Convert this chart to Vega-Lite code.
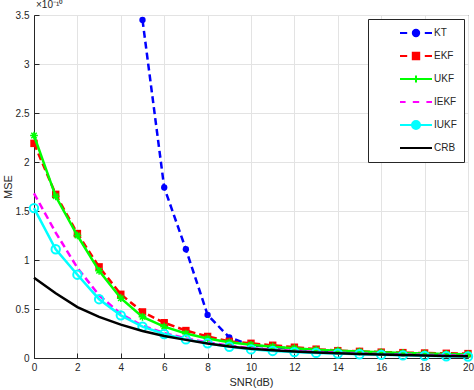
{
  "$schema": "https://vega.github.io/schema/vega-lite/v6.json",
  "width": 434,
  "height": 343,
  "autosize": {"type": "none"},
  "padding": {"left": 34, "top": 15, "right": 6, "bottom": 32},
  "background": "white",
  "title": {"text": "×10⁻¹⁰", "anchor": "start", "frame": "group", "fontSize": 10, "fontWeight": "normal", "font": "Liberation Sans", "color": "#262626", "offset": 0, "dx": 2},
  "config": {
    "view": {"stroke": "#262626", "strokeWidth": 1},
    "axis": {
      "labelFont": "Liberation Sans", "labelFontSize": 10, "labelColor": "#262626",
      "titleFont": "Liberation Sans", "titleFontSize": 11, "titleFontWeight": "normal", "titleColor": "#262626",
      "gridColor": "#e3e3e3", "gridWidth": 1, "domainColor": "#262626", "tickColor": "#262626", "tickSize": -5
    }
  },
  "data": {"values": [
    {"snr": 5, "series": "KT", "mse": 3.45}, {"snr": 6, "series": "KT", "mse": 1.74}, {"snr": 7, "series": "KT", "mse": 1.11}, {"snr": 8, "series": "KT", "mse": 0.44}, {"snr": 9, "series": "KT", "mse": 0.21}, {"snr": 10, "series": "KT", "mse": 0.13}, {"snr": 11, "series": "KT", "mse": 0.11}, {"snr": 12, "series": "KT", "mse": 0.095}, {"snr": 13, "series": "KT", "mse": 0.08}, {"snr": 14, "series": "KT", "mse": 0.068}, {"snr": 15, "series": "KT", "mse": 0.06}, {"snr": 16, "series": "KT", "mse": 0.053}, {"snr": 17, "series": "KT", "mse": 0.047}, {"snr": 18, "series": "KT", "mse": 0.042}, {"snr": 19, "series": "KT", "mse": 0.038}, {"snr": 20, "series": "KT", "mse": 0.034},
    {"snr": 0, "series": "EKF", "mse": 2.19}, {"snr": 1, "series": "EKF", "mse": 1.67}, {"snr": 2, "series": "EKF", "mse": 1.27}, {"snr": 3, "series": "EKF", "mse": 0.93}, {"snr": 4, "series": "EKF", "mse": 0.65}, {"snr": 5, "series": "EKF", "mse": 0.47}, {"snr": 6, "series": "EKF", "mse": 0.36}, {"snr": 7, "series": "EKF", "mse": 0.28}, {"snr": 8, "series": "EKF", "mse": 0.22}, {"snr": 9, "series": "EKF", "mse": 0.17}, {"snr": 10, "series": "EKF", "mse": 0.15}, {"snr": 11, "series": "EKF", "mse": 0.13}, {"snr": 12, "series": "EKF", "mse": 0.11}, {"snr": 13, "series": "EKF", "mse": 0.09}, {"snr": 14, "series": "EKF", "mse": 0.075}, {"snr": 15, "series": "EKF", "mse": 0.068}, {"snr": 16, "series": "EKF", "mse": 0.06}, {"snr": 17, "series": "EKF", "mse": 0.055}, {"snr": 18, "series": "EKF", "mse": 0.051}, {"snr": 19, "series": "EKF", "mse": 0.048}, {"snr": 20, "series": "EKF", "mse": 0.045},
    {"snr": 0, "series": "UKF", "mse": 2.27}, {"snr": 1, "series": "UKF", "mse": 1.65}, {"snr": 2, "series": "UKF", "mse": 1.25}, {"snr": 3, "series": "UKF", "mse": 0.89}, {"snr": 4, "series": "UKF", "mse": 0.61}, {"snr": 5, "series": "UKF", "mse": 0.42}, {"snr": 6, "series": "UKF", "mse": 0.32}, {"snr": 7, "series": "UKF", "mse": 0.25}, {"snr": 8, "series": "UKF", "mse": 0.2}, {"snr": 9, "series": "UKF", "mse": 0.16}, {"snr": 10, "series": "UKF", "mse": 0.135}, {"snr": 11, "series": "UKF", "mse": 0.115}, {"snr": 12, "series": "UKF", "mse": 0.1}, {"snr": 13, "series": "UKF", "mse": 0.085}, {"snr": 14, "series": "UKF", "mse": 0.075}, {"snr": 15, "series": "UKF", "mse": 0.066}, {"snr": 16, "series": "UKF", "mse": 0.058}, {"snr": 17, "series": "UKF", "mse": 0.052}, {"snr": 18, "series": "UKF", "mse": 0.047}, {"snr": 19, "series": "UKF", "mse": 0.042}, {"snr": 20, "series": "UKF", "mse": 0.038},
    {"snr": 0, "series": "IEKF", "mse": 1.68}, {"snr": 1, "series": "IEKF", "mse": 1.28}, {"snr": 2, "series": "IEKF", "mse": 0.92}, {"snr": 3, "series": "IEKF", "mse": 0.64}, {"snr": 4, "series": "IEKF", "mse": 0.45}, {"snr": 5, "series": "IEKF", "mse": 0.33}, {"snr": 6, "series": "IEKF", "mse": 0.255}, {"snr": 7, "series": "IEKF", "mse": 0.2}, {"snr": 8, "series": "IEKF", "mse": 0.16}, {"snr": 9, "series": "IEKF", "mse": 0.125}, {"snr": 10, "series": "IEKF", "mse": 0.1}, {"snr": 11, "series": "IEKF", "mse": 0.085}, {"snr": 12, "series": "IEKF", "mse": 0.072}, {"snr": 13, "series": "IEKF", "mse": 0.062}, {"snr": 14, "series": "IEKF", "mse": 0.054}, {"snr": 15, "series": "IEKF", "mse": 0.047}, {"snr": 16, "series": "IEKF", "mse": 0.041}, {"snr": 17, "series": "IEKF", "mse": 0.036}, {"snr": 18, "series": "IEKF", "mse": 0.032}, {"snr": 19, "series": "IEKF", "mse": 0.028}, {"snr": 20, "series": "IEKF", "mse": 0.025},
    {"snr": 0, "series": "IUKF", "mse": 1.53}, {"snr": 1, "series": "IUKF", "mse": 1.11}, {"snr": 2, "series": "IUKF", "mse": 0.85}, {"snr": 3, "series": "IUKF", "mse": 0.6}, {"snr": 4, "series": "IUKF", "mse": 0.435}, {"snr": 5, "series": "IUKF", "mse": 0.32}, {"snr": 6, "series": "IUKF", "mse": 0.245}, {"snr": 7, "series": "IUKF", "mse": 0.19}, {"snr": 8, "series": "IUKF", "mse": 0.15}, {"snr": 9, "series": "IUKF", "mse": 0.115}, {"snr": 10, "series": "IUKF", "mse": 0.088}, {"snr": 11, "series": "IUKF", "mse": 0.072}, {"snr": 12, "series": "IUKF", "mse": 0.06}, {"snr": 13, "series": "IUKF", "mse": 0.052}, {"snr": 14, "series": "IUKF", "mse": 0.045}, {"snr": 15, "series": "IUKF", "mse": 0.038}, {"snr": 16, "series": "IUKF", "mse": 0.032}, {"snr": 17, "series": "IUKF", "mse": 0.027}, {"snr": 18, "series": "IUKF", "mse": 0.022}, {"snr": 19, "series": "IUKF", "mse": 0.018}, {"snr": 20, "series": "IUKF", "mse": 0.015},
    {"snr": 0, "series": "CRB", "mse": 0.82}, {"snr": 1, "series": "CRB", "mse": 0.66}, {"snr": 2, "series": "CRB", "mse": 0.52}, {"snr": 3, "series": "CRB", "mse": 0.42}, {"snr": 4, "series": "CRB", "mse": 0.34}, {"snr": 5, "series": "CRB", "mse": 0.275}, {"snr": 6, "series": "CRB", "mse": 0.225}, {"snr": 7, "series": "CRB", "mse": 0.185}, {"snr": 8, "series": "CRB", "mse": 0.148}, {"snr": 9, "series": "CRB", "mse": 0.118}, {"snr": 10, "series": "CRB", "mse": 0.095}, {"snr": 11, "series": "CRB", "mse": 0.08}, {"snr": 12, "series": "CRB", "mse": 0.067}, {"snr": 13, "series": "CRB", "mse": 0.057}, {"snr": 14, "series": "CRB", "mse": 0.048}, {"snr": 15, "series": "CRB", "mse": 0.041}, {"snr": 16, "series": "CRB", "mse": 0.035}, {"snr": 17, "series": "CRB", "mse": 0.03}, {"snr": 18, "series": "CRB", "mse": 0.025}, {"snr": 19, "series": "CRB", "mse": 0.021}, {"snr": 20, "series": "CRB", "mse": 0.018}
  ]},
  "encoding": {
    "x": {"field": "snr", "type": "quantitative", "scale": {"domain": [0, 20], "nice": false, "zero": false},
      "axis": {"title": "SNR(dB)", "values": [0, 2, 4, 6, 8, 10, 12, 14, 16, 18, 20], "format": "d", "labelPadding": 9, "titlePadding": 4, "labelFlush": false}},
    "y": {"field": "mse", "type": "quantitative", "scale": {"domain": [0, 3.5], "nice": false},
      "axis": {"title": "MSE", "values": [0, 0.5, 1, 1.5, 2, 2.5, 3, 3.5], "format": "~g", "labelPadding": 10, "titlePadding": 2, "labelFlush": false}},
    "color": {"field": "series", "type": "nominal",
      "scale": {"domain": ["KT", "EKF", "UKF", "IEKF", "IUKF", "CRB"], "range": ["#0000ff", "#ff0000", "#00ff00", "#ff00ff", "#00ffff", "#000000"]}}
  },
  "layer": [
    {
      "transform": [{"filter": "datum.snr > 100"}],
      "mark": {"type": "point", "filled": false, "opacity": 1, "size": 4096, "strokeWidth": 2},
      "encoding": {
        "color": {"field": "series", "type": "nominal",
          "scale": {"domain": ["KT", "EKF", "UKF", "IEKF", "IUKF", "CRB"], "range": ["#0000ff", "#ff0000", "#00ff00", "#ff00ff", "#00ffff", "#000000"]},
          "legend": {"title": null, "orient": "top-right", "offset": 4, "padding": 7, "strokeColor": "#262626", "fillColor": "white",
            "clipHeight": 14, "rowPadding": 9, "labelOffset": -7, "symbolSize": 4096, "symbolStrokeWidth": 2,
            "labelFont": "Liberation Sans", "labelFontSize": 10, "labelColor": "#262626",
            "labelExpr": "datum.label + '\u00a0\u00a0\u00a0\u00a0\u00a0\u00a0\u00a0'"}},
        "shape": {"field": "series", "type": "nominal",
          "scale": {"domain": ["KT", "EKF", "UKF", "IEKF", "IUKF", "CRB"],
            "range": [
              "M-1,0M-0.25,0H-0.025M0.525,0H0.75M0.15,0A0.1,0.1 0 1,0 0.35,0A0.1,0.1 0 1,0 0.15,0M0.2,0A0.05,0.05 0 1,0 0.3,0A0.05,0.05 0 1,0 0.2,0M0.235,0H0.265",
              "M-1,0M-0.25,0H-0.025M0.525,0H0.75M0.15,-0.1H0.35V0.1H0.15ZM0.2,-0.05H0.3V0.05H0.2ZM0.235,0H0.265",
              "M-1,0M-0.25,0H0.75M0.25,-0.11V0.11",
              "M-1,0M-0.25,0H-0.075M0.15,0H0.35M0.575,0H0.75",
              "M-1,0M-0.25,0H0.125M0.375,0H0.75M0.125,0A0.125,0.125 0 1,0 0.375,0A0.125,0.125 0 1,0 0.125,0",
              "M-1,0M-0.25,0H0.75"
            ]},
          "legend": {"title": null, "orient": "top-right", "offset": 4, "padding": 7, "strokeColor": "#262626", "fillColor": "white",
            "clipHeight": 14, "rowPadding": 9, "labelOffset": -7, "symbolSize": 4096, "symbolStrokeWidth": 2,
            "labelFont": "Liberation Sans", "labelFontSize": 10, "labelColor": "#262626",
            "labelExpr": "datum.label + '\u00a0\u00a0\u00a0\u00a0\u00a0\u00a0\u00a0'"}}
      }
    },
    {
      "transform": [{"filter": "datum.series == 'KT'"}],
      "mark": {"type": "line", "strokeWidth": 2.5, "strokeDash": [7, 4]}
    },
    {
      "transform": [{"filter": "datum.series == 'KT'"}],
      "mark": {"type": "point", "shape": "circle", "filled": true, "opacity": 1, "size": 40}
    },
    {
      "transform": [{"filter": "datum.series == 'EKF'"}],
      "mark": {"type": "line", "strokeWidth": 2.5, "strokeDash": [7, 4]}
    },
    {
      "transform": [{"filter": "datum.series == 'EKF'"}],
      "mark": {"type": "point", "shape": "square", "filled": true, "opacity": 1, "size": 55}
    },
    {
      "transform": [{"filter": "datum.series == 'UKF'"}],
      "mark": {"type": "line", "strokeWidth": 2.5}
    },
    {
      "transform": [{"filter": "datum.series == 'UKF'"}],
      "mark": {"type": "point", "shape": "M-1,0H1M0,-1V1M-0.7,-0.7L0.7,0.7M-0.7,0.7L0.7,-0.7", "filled": false, "opacity": 1, "size": 60, "strokeWidth": 1.5}
    },
    {
      "transform": [{"filter": "datum.series == 'IEKF'"}],
      "mark": {"type": "line", "strokeWidth": 2.5, "strokeDash": [7, 4]}
    },
    {
      "transform": [{"filter": "datum.series == 'IUKF'"}],
      "mark": {"type": "line", "strokeWidth": 2.5}
    },
    {
      "transform": [{"filter": "datum.series == 'IUKF'"}],
      "mark": {"type": "point", "shape": "circle", "filled": false, "opacity": 1, "size": 70, "strokeWidth": 2}
    },
    {
      "transform": [{"filter": "datum.series == 'CRB'"}],
      "mark": {"type": "line", "strokeWidth": 2.5}
    }
  ]
}
